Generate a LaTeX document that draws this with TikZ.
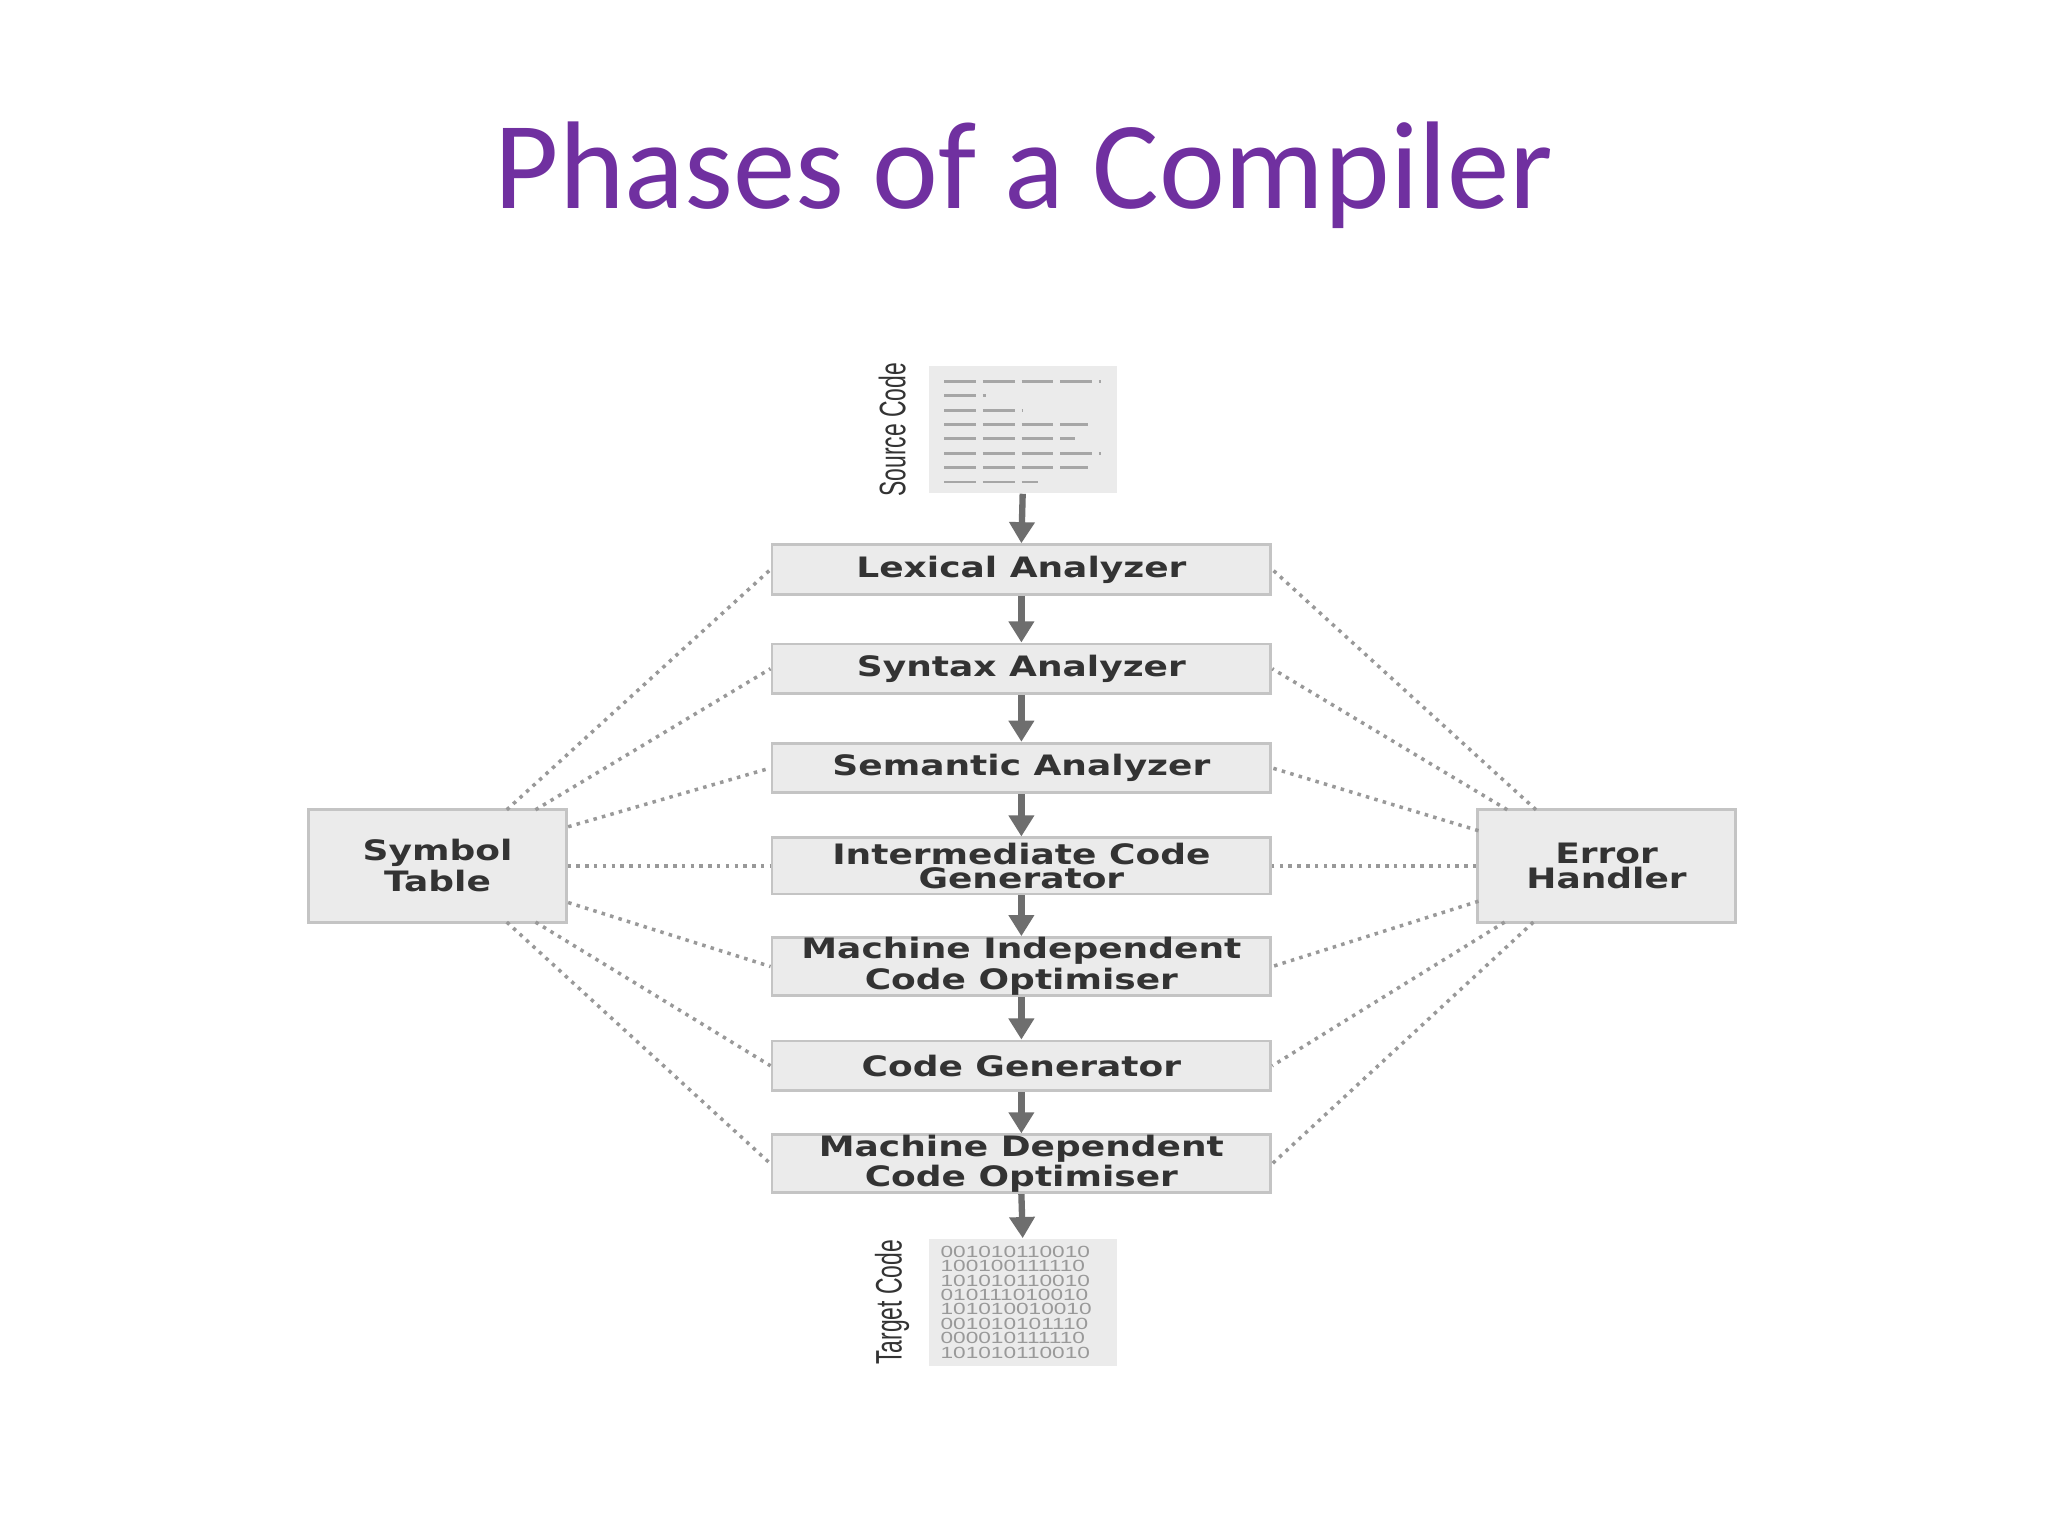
\documentclass[tikz,border=0pt]{standalone}
\usepackage{fontspec}
\setmainfont{DejaVu Sans}
\newfontfamily\titlefont{Carlito}
\newfontfamily\labfont{Liberation Sans}
\newfontfamily\bitfont{Liberation Sans}[FakeStretch=1.4]
\newfontfamily\phasefont{DejaVu Sans}[FakeStretch=1.28]
\newcommand\tightbits{\bitfont\fontsize{4.6}{4.1}\selectfont\lineskiplimit=-5pt\relax}
\usetikzlibrary{arrows.meta}
\definecolor{ttl}{HTML}{7030A0}
\definecolor{boxfill}{HTML}{EBEBEB}
\definecolor{boxline}{HTML}{C4C4C4}
\definecolor{txt}{HTML}{333333}
\definecolor{arr}{HTML}{6E6E6E}
\begin{document}
\begin{tikzpicture}[x=0.013061cm,y=-0.013061cm,
  phase/.style={draw=boxline,fill=boxfill,line width=0.8pt,minimum width=382*0.13061mm,inner sep=0pt,
     font=\phasefont\fontsize{8}{7}\selectfont\bfseries,text=txt,align=center},
  side/.style={phase,minimum width=197*0.13061mm,minimum height=86*0.13061mm},
  flow/.style={draw=arr,line width=1.8pt,-{Triangle[length=6pt,width=7pt]}},
  dot/.style={draw=gray!80,line width=1pt,dash pattern=on 1pt off 1.5pt},
  doc/.style={fill=boxfill,draw=none,minimum width=144*0.13061mm,minimum height=97*0.13061mm,inner sep=0pt},
  vlab/.style={rotate=90,font=\labfont\fontsize{10.5}{10.5}\selectfont,text=txt}]
\useasboundingbox (0,0) rectangle (1568,1176);
\fill[white] (0,0) rectangle (1568,1176);
\node[font=\titlefont\fontsize{35.5}{36}\selectfont,text=ttl] (title) at (784,134) {Phases of a Compiler};

\node[phase,minimum height=38*0.13061mm] (lex) at (782,436) {Lexical Analyzer};
\node[phase,minimum height=38*0.13061mm] (syn) at (782,512) {Syntax Analyzer};
\node[phase,minimum height=38*0.13061mm] (sem) at (782,588) {Semantic Analyzer};
\node[phase,minimum height=43*0.13061mm] (icg) at (782,663) {Intermediate Code\\Generator};
\node[phase,minimum height=43*0.13061mm] (mio) at (782,740) {Machine Independent\\Code Optimiser};
\node[phase,minimum height=38*0.13061mm] (cg) at (782,816) {Code Generator};
\node[phase,minimum height=43*0.13061mm] (mdo) at (782,891) {Machine Dependent\\Code Optimiser};
\node[side] (st) at (335,663) {Symbol\\Table};
\node[side] (eh) at (1230,663) {Error\\Handler};

\node[doc] (src) at (783,329) {};
\node[vlab] (srcl) at (683,329) {\scalebox{0.62}[1]{Source Code}};
\foreach \y/\l in {292/120,303/32,314/60,325/110,336/100,347/120,358/110,369/72}
  \draw[gray!70,line width=0.8pt,dash pattern=on 9pt off 2pt] (723,\y) -- ++(\l,0);
\node[doc] (tgt) at (783,997) {};
\node[vlab] (tgtl) at (683,997) {\scalebox{0.62}[1]{Target Code}};
\node[font=\tightbits,text=gray!80,align=left,inner sep=0pt] (bits) at (778,997)
 {001010110010\\100100111110\\101010110010\\010111010010\\101010010010\\001010101110\\000010111110\\101010110010};

\draw[flow] (src.south) -- (lex.north);
\draw[flow] (lex) -- (syn);
\draw[flow] (syn) -- (sem);
\draw[flow] (sem) -- (icg);
\draw[flow] (icg) -- (mio);
\draw[flow] (mio) -- (cg);
\draw[flow] (cg) -- (mdo);
\draw[flow] (mdo.south) -- (tgt.north);

\coordinate (s1) at (388,620); \coordinate (s2) at (410,620); \coordinate (s3) at (435,633);
\coordinate (s5) at (435,691); \coordinate (s6) at (410,706); \coordinate (s7) at (388,706);
\draw[dot] (s1) -- (lex.west); \draw[dot] (s2) -- (syn.west); \draw[dot] (s3) -- (sem.west);
\draw[dot] (st.east) -- (icg.west); \draw[dot] (s5) -- (mio.west); \draw[dot] (s6) -- (cg.west); \draw[dot] (s7) -- (mdo.west);
\coordinate (e1) at (1176,620); \coordinate (e2) at (1154,620); \coordinate (e3) at (1132,636);
\coordinate (e5) at (1132,690); \coordinate (e6) at (1152,706); \coordinate (e7) at (1174,706);
\draw[dot] (e1) -- (lex.east); \draw[dot] (e2) -- (syn.east); \draw[dot] (e3) -- (sem.east);
\draw[dot] (eh.west) -- (icg.east); \draw[dot] (e5) -- (mio.east); \draw[dot] (e6) -- (cg.east); \draw[dot] (e7) -- (mdo.east);
\end{tikzpicture}
\end{document}
